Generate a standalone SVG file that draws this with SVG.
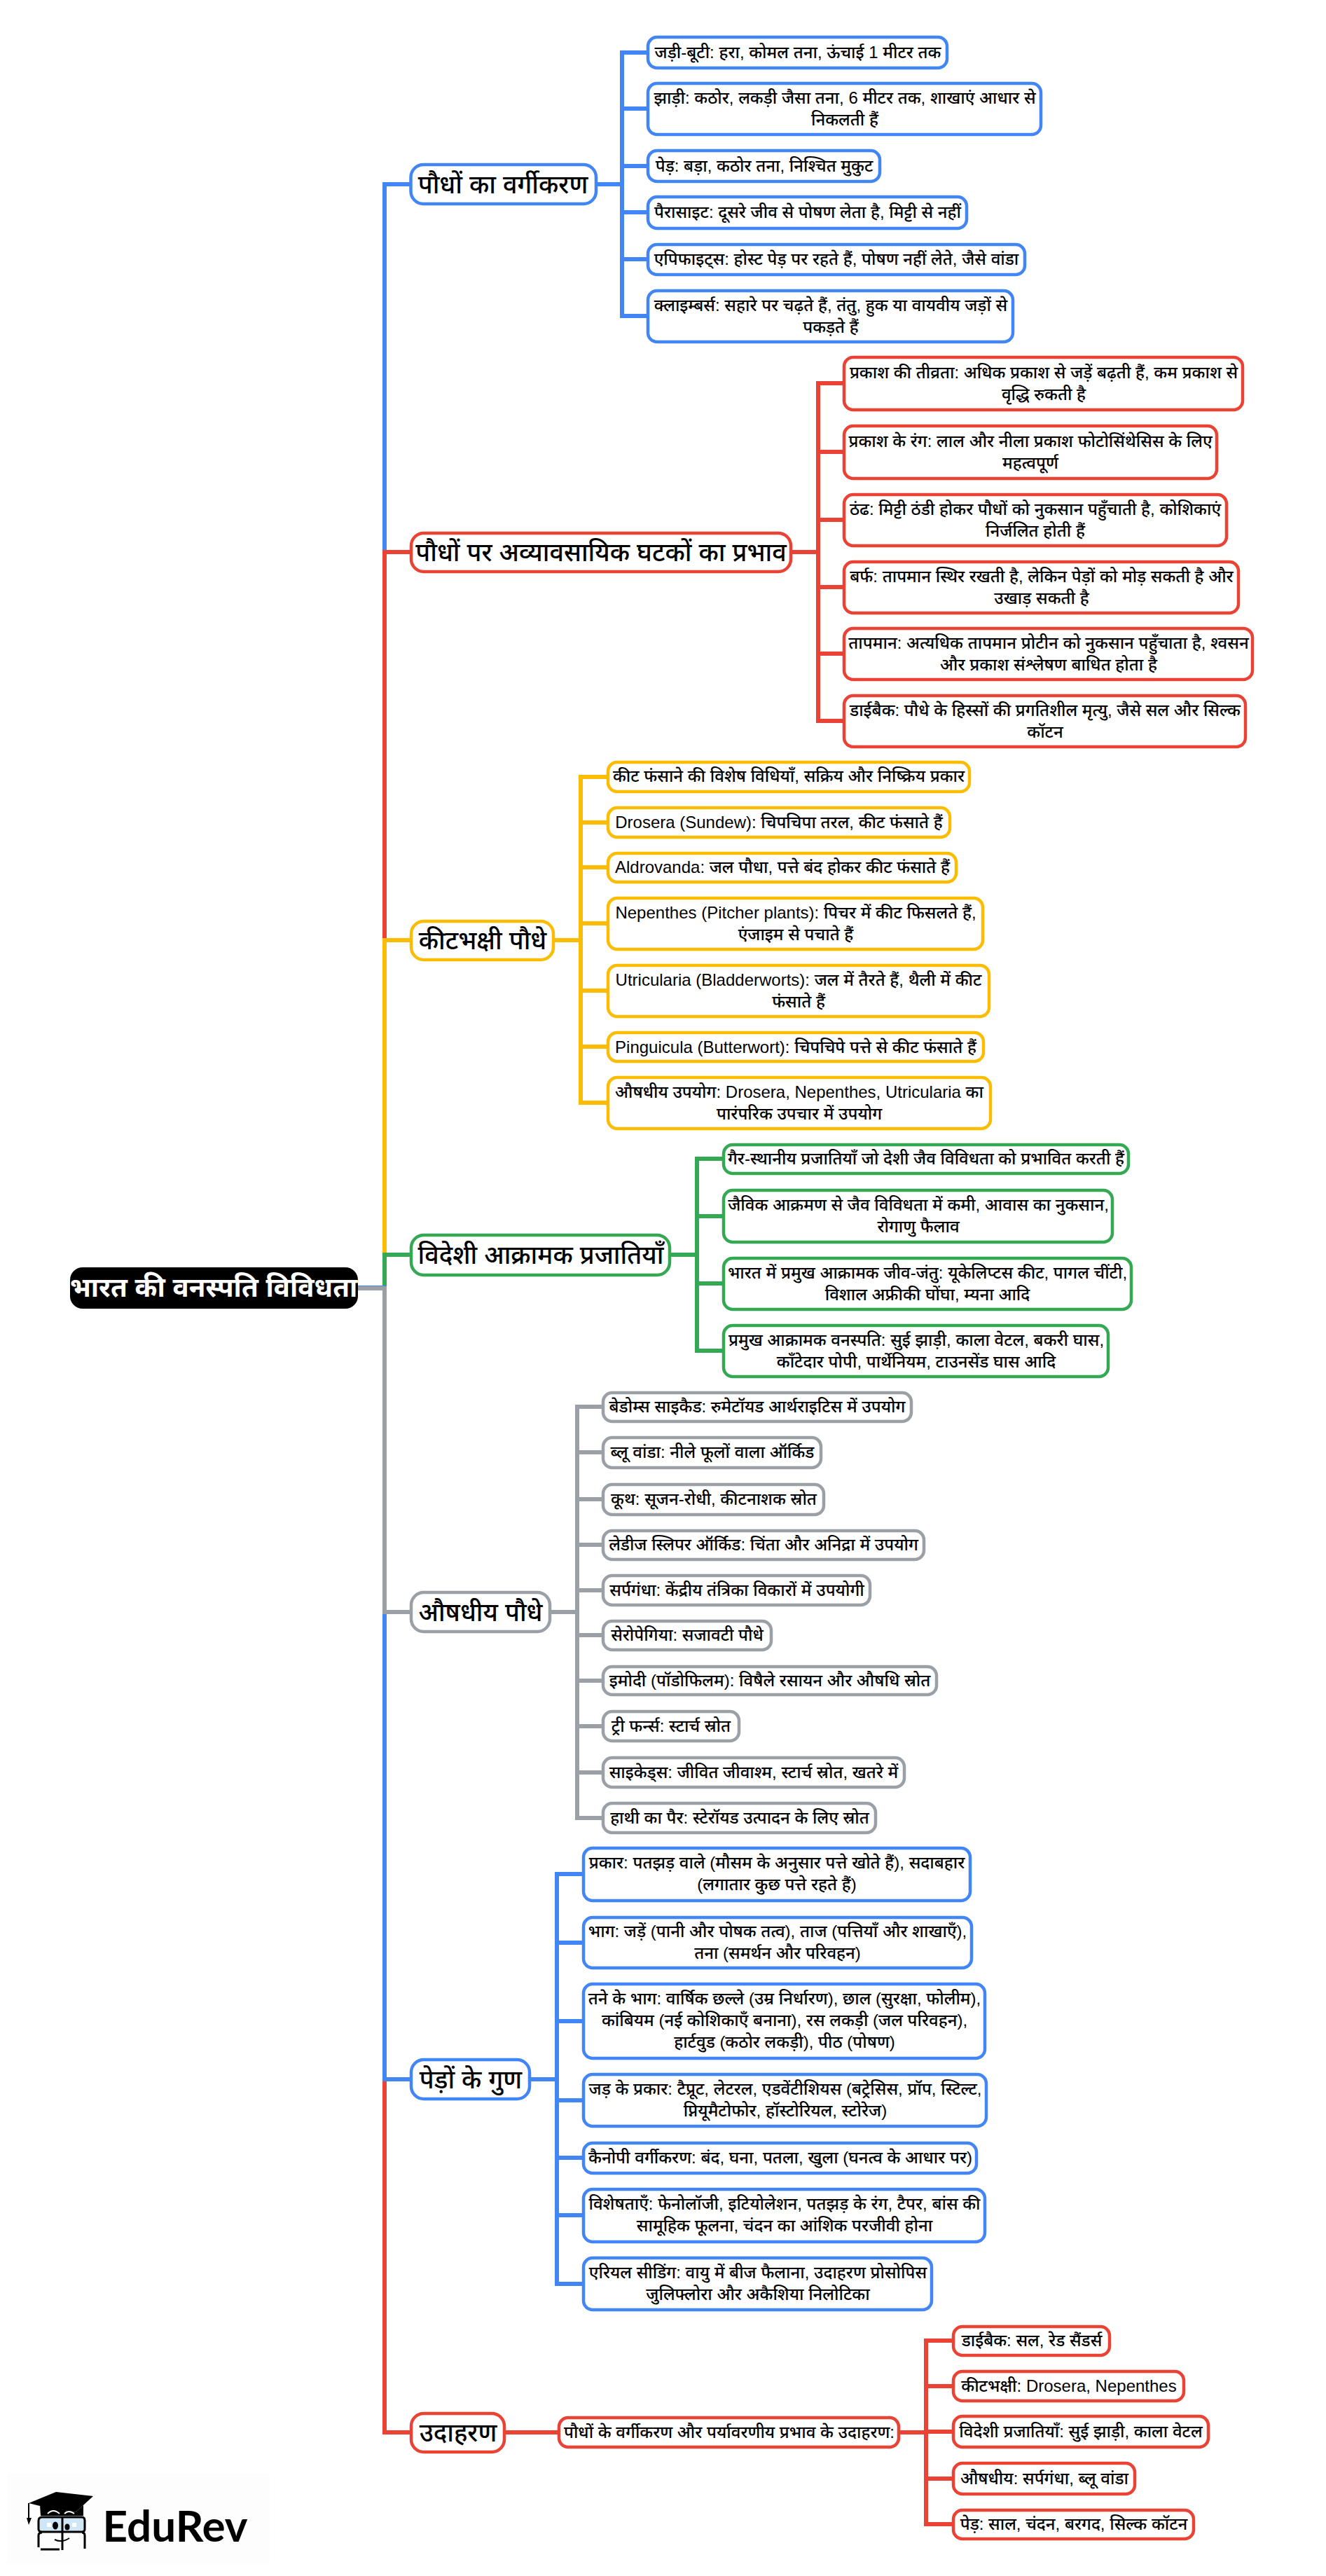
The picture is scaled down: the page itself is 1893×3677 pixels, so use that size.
<svg xmlns="http://www.w3.org/2000/svg" width="1893" height="3677" viewBox="0 0 1893 3677">
<style>
text{font-family:"Liberation Sans","Noto Sans",sans-serif;text-anchor:middle;fill:#000}
.c{font-size:24px;font-weight:500}
.p{font-size:36px;font-weight:500}
.r{font-size:38.5px;font-weight:700;fill:#fff}
rect{fill:#fff;stroke-width:4.5}
path{fill:none;stroke-width:6}
.bl rect,path.bl{stroke:#4285F4}
.rd rect,path.rd{stroke:#EA4335}
.yl rect,path.yl{stroke:#FBBC04}
.gn rect,path.gn{stroke:#34A853}
.gy rect,path.gy{stroke:#9AA0A6}
</style>
<g id="connectors">
<path class="bl" d="M511 1838H549V263H586M851 263H888M924 75H888V451H924M888 155H924M888 237H924M888 303H924M888 370H924"/>
<path class="rd" d="M511 1838H549V788H586M1131 788H1168M1204 547H1168V1029H1204M1168 645H1204M1168 742H1204M1168 838H1204M1168 933H1204"/>
<path class="yl" d="M511 1838H549V1342H586M792 1342H829M867 1109H829V1574H867M829 1174H867M829 1238H867M829 1318H867M829 1414H867M829 1494H867"/>
<path class="gn" d="M511 1838H549V1791H586M958 1791H995M1032 1654H995V1928H1032M995 1736H1032M995 1832H1032"/>
<path class="rd" d="M511 1838H549V3472H586M722 3472H797M1285 3472H1322M1360 3341H1322V3603H1360M1322 3406H1360M1322 3471H1360M1322 3538H1360"/>
<path class="bl" d="M511 1838H549V2968H586M758 2968H795M832 2675H795V3260H832M795 2773H832M795 2885H832M795 2998H832M795 3080H832M795 3162H832"/>
<path class="gy" d="M511 1839H549V2301H586M787 2301H824M860 2008H824V2595H860M824 2073H860M824 2140H860M824 2205H860M824 2270H860M824 2334H860M824 2399H860M824 2464H860M824 2530H860"/>
</g>
<g id="root"><rect x="100" y="1809" width="411" height="59" rx="18" style="fill:#000;stroke:none"/><text class="r" x="305" y="1851">भारत की वनस्पति विविधता</text></g>
<g id="n1" class="bl"><rect x="586.5" y="235" width="264.5" height="56" rx="18"/><text class="p" x="718" y="276">पौधों का वर्गीकरण</text></g>
<g id="n1a" class="bl"><rect x="925" y="53" width="427" height="44" rx="13"/><text class="c" x="1139" y="83">जड़ी-बूटी: हरा, कोमल तना, ऊंचाई 1 मीटर तक</text></g>
<g id="n1b" class="bl"><rect x="925" y="119" width="561" height="73" rx="13"/><text class="c" x="1206" y="148">झाड़ी: कठोर, लकड़ी जैसा तना, 6 मीटर तक, शाखाएं आधार से</text><text class="c" x="1206" y="179">निकलती हैं</text></g>
<g id="n1c" class="bl"><rect x="925" y="215" width="331" height="44" rx="13"/><text class="c" x="1091" y="245">पेड़: बड़ा, कठोर तना, निश्चित मुकुट</text></g>
<g id="n1d" class="bl"><rect x="925" y="281" width="455" height="45" rx="13"/><text class="c" x="1153" y="311">पैरासाइट: दूसरे जीव से पोषण लेता है, मिट्टी से नहीं</text></g>
<g id="n1e" class="bl"><rect x="925" y="349" width="538" height="43" rx="13"/><text class="c" x="1194" y="378">एपिफाइट्स: होस्ट पेड़ पर रहते हैं, पोषण नहीं लेते, जैसे वांडा</text></g>
<g id="n1f" class="bl"><rect x="925" y="415" width="521" height="73" rx="13"/><text class="c" x="1186" y="444">क्लाइम्बर्स: सहारे पर चढ़ते हैं, तंतु, हुक या वायवीय जड़ों से</text><text class="c" x="1186" y="475">पकड़ते हैं</text></g>
<g id="n2" class="rd"><rect x="587" y="761" width="542" height="55" rx="18"/><text class="p" x="858" y="801">पौधों पर अव्यावसायिक घटकों का प्रभाव</text></g>
<g id="n2a" class="rd"><rect x="1205" y="510" width="569" height="75" rx="13"/><text class="c" x="1490" y="540">प्रकाश की तीव्रता: अधिक प्रकाश से जड़ें बढ़ती हैं, कम प्रकाश से</text><text class="c" x="1490" y="571">वृद्धि रुकती है</text></g>
<g id="n2b" class="rd"><rect x="1205" y="608" width="532" height="75" rx="13"/><text class="c" x="1471" y="638">प्रकाश के रंग: लाल और नीला प्रकाश फोटोसिंथेसिस के लिए</text><text class="c" x="1471" y="669">महत्वपूर्ण</text></g>
<g id="n2c" class="rd"><rect x="1205" y="706" width="546" height="73" rx="13"/><text class="c" x="1478" y="735">ठंढ: मिट्टी ठंडी होकर पौधों को नुकसान पहुँचाती है, कोशिकाएं</text><text class="c" x="1478" y="766">निर्जलित होती हैं</text></g>
<g id="n2d" class="rd"><rect x="1205" y="802" width="563" height="73" rx="13"/><text class="c" x="1487" y="831">बर्फ: तापमान स्थिर रखती है, लेकिन पेड़ों को मोड़ सकती है और</text><text class="c" x="1487" y="862">उखाड़ सकती है</text></g>
<g id="n2e" class="rd"><rect x="1205" y="897" width="583" height="73" rx="13"/><text class="c" x="1497" y="926">तापमान: अत्यधिक तापमान प्रोटीन को नुकसान पहुँचाता है, श्वसन</text><text class="c" x="1497" y="957">और प्रकाश संश्लेषण बाधित होता है</text></g>
<g id="n2f" class="rd"><rect x="1205" y="993" width="573" height="73" rx="13"/><text class="c" x="1492" y="1022">डाईबैक: पौधे के हिस्सों की प्रगतिशील मृत्यु, जैसे सल और सिल्क</text><text class="c" x="1492" y="1053">कॉटन</text></g>
<g id="n3" class="yl"><rect x="587" y="1315" width="203" height="55" rx="18"/><text class="p" x="689" y="1355">कीटभक्षी पौधे</text></g>
<g id="n3a" class="yl"><rect x="868" y="1088" width="516" height="42" rx="13"/><text class="c" x="1126" y="1116">कीट फंसाने की विशेष विधियाँ, सक्रिय और निष्क्रिय प्रकार</text></g>
<g id="n3b" class="yl"><rect x="868" y="1153" width="488" height="42" rx="13"/><text class="c" x="1112" y="1182">Drosera (Sundew): चिपचिपा तरल, कीट फंसाते हैं</text></g>
<g id="n3c" class="yl"><rect x="868" y="1218" width="497" height="41" rx="13"/><text class="c" x="1117" y="1246">Aldrovanda: जल पौधा, पत्ते बंद होकर कीट फंसाते हैं</text></g>
<g id="n3d" class="yl"><rect x="868" y="1282" width="535" height="73" rx="13"/><text class="c" x="1136" y="1311">Nepenthes (Pitcher plants): पिचर में कीट फिसलते हैं,</text><text class="c" x="1136" y="1342">एंजाइम से पचाते हैं</text></g>
<g id="n3e" class="yl"><rect x="868" y="1378" width="544" height="73" rx="13"/><text class="c" x="1140" y="1407">Utricularia (Bladderworts): जल में तैरते हैं, थैली में कीट</text><text class="c" x="1140" y="1438">फंसाते हैं</text></g>
<g id="n3f" class="yl"><rect x="868" y="1474" width="536" height="41" rx="13"/><text class="c" x="1136" y="1503">Pinguicula (Butterwort): चिपचिपे पत्ते से कीट फंसाते हैं</text></g>
<g id="n3g" class="yl"><rect x="868" y="1538" width="546" height="73" rx="13"/><text class="c" x="1141" y="1567">औषधीय उपयोग: Drosera, Nepenthes, Utricularia का</text><text class="c" x="1141" y="1598">पारंपरिक उपचार में उपयोग</text></g>
<g id="n4" class="gn"><rect x="587" y="1763" width="369" height="57" rx="18"/><text class="p" x="772" y="1804">विदेशी आक्रामक प्रजातियाँ</text></g>
<g id="n4a" class="gn"><rect x="1033" y="1634" width="578" height="41" rx="13"/><text class="c" x="1322" y="1662">गैर-स्थानीय प्रजातियाँ जो देशी जैव विविधता को प्रभावित करती हैं</text></g>
<g id="n4b" class="gn"><rect x="1033" y="1699" width="555" height="74" rx="13"/><text class="c" x="1311" y="1728">जैविक आक्रमण से जैव विविधता में कमी, आवास का नुकसान,</text><text class="c" x="1311" y="1759">रोगाणु फैलाव</text></g>
<g id="n4c" class="gn"><rect x="1033" y="1796" width="582" height="73" rx="13"/><text class="c" x="1324" y="1825">भारत में प्रमुख आक्रामक जीव-जंतु: यूकेलिप्टस कीट, पागल चींटी,</text><text class="c" x="1324" y="1856">विशाल अफ्रीकी घोंघा, म्यना आदि</text></g>
<g id="n4d" class="gn"><rect x="1033" y="1892" width="549" height="73" rx="13"/><text class="c" x="1308" y="1921">प्रमुख आक्रामक वनस्पति: सुई झाड़ी, काला वेटल, बकरी घास,</text><text class="c" x="1308" y="1952">काँटेदार पोपी, पार्थेनियम, टाउनसेंड घास आदि</text></g>
<g id="n5" class="gy"><rect x="587" y="2273" width="198" height="56" rx="18"/><text class="p" x="686" y="2314">औषधीय पौधे</text></g>
<g id="n5a" class="gy"><rect x="861" y="1988" width="440" height="41" rx="13"/><text class="c" x="1081" y="2016">बेडोम्स साइकैड: रुमेटॉयड आर्थराइटिस में उपयोग</text></g>
<g id="n5b" class="gy"><rect x="861" y="2052" width="311" height="43" rx="13"/><text class="c" x="1017" y="2081">ब्लू वांडा: नीले फूलों वाला ऑर्किड</text></g>
<g id="n5c" class="gy"><rect x="861" y="2119" width="315" height="43" rx="13"/><text class="c" x="1019" y="2148">कूथ: सूजन-रोधी, कीटनाशक स्रोत</text></g>
<g id="n5d" class="gy"><rect x="861" y="2185" width="458" height="41" rx="13"/><text class="c" x="1090" y="2213">लेडीज स्लिपर ऑर्किड: चिंता और अनिद्रा में उपयोग</text></g>
<g id="n5e" class="gy"><rect x="861" y="2249" width="381" height="42" rx="13"/><text class="c" x="1052" y="2278">सर्पगंधा: केंद्रीय तंत्रिका विकारों में उपयोगी</text></g>
<g id="n5f" class="gy"><rect x="861" y="2314" width="240" height="41" rx="13"/><text class="c" x="981" y="2342">सेरोपेगिया: सजावटी पौधे</text></g>
<g id="n5g" class="gy"><rect x="861" y="2379" width="476" height="40" rx="13"/><text class="c" x="1099" y="2407">इमोदी (पॉडोफिलम): विषैले रसायन और औषधि स्रोत</text></g>
<g id="n5h" class="gy"><rect x="861" y="2443" width="194" height="42" rx="13"/><text class="c" x="958" y="2472">ट्री फर्न्स: स्टार्च स्रोत</text></g>
<g id="n5i" class="gy"><rect x="861" y="2509" width="430" height="42" rx="13"/><text class="c" x="1076" y="2538">साइकेड्स: जीवित जीवाश्म, स्टार्च स्रोत, खतरे में</text></g>
<g id="n5j" class="gy"><rect x="861" y="2574" width="389" height="42" rx="13"/><text class="c" x="1056" y="2603">हाथी का पैर: स्टेरॉयड उत्पादन के लिए स्रोत</text></g>
<g id="n6" class="bl"><rect x="587" y="2940" width="169" height="56" rx="18"/><text class="p" x="672" y="2981">पेड़ों के गुण</text></g>
<g id="n6a" class="bl"><rect x="833" y="2638" width="552" height="75" rx="13"/><text class="c" x="1109" y="2667">प्रकार: पतझड़ वाले (मौसम के अनुसार पत्ते खोते हैं), सदाबहार</text><text class="c" x="1109" y="2698">(लगातार कुछ पत्ते रहते हैं)</text></g>
<g id="n6b" class="bl"><rect x="833" y="2737" width="554" height="72" rx="13"/><text class="c" x="1110" y="2765">भाग: जड़ें (पानी और पोषक तत्व), ताज (पत्तियाँ और शाखाएँ),</text><text class="c" x="1110" y="2796">तना (समर्थन और परिवहन)</text></g>
<g id="n6c" class="bl"><rect x="833" y="2832" width="573" height="106" rx="13"/><text class="c" x="1120" y="2861">तने के भाग: वार्षिक छल्ले (उम्र निर्धारण), छाल (सुरक्षा, फोलीम),</text><text class="c" x="1120" y="2892">कांबियम (नई कोशिकाएँ बनाना), रस लकड़ी (जल परिवहन),</text><text class="c" x="1120" y="2923">हार्टवुड (कठोर लकड़ी), पीठ (पोषण)</text></g>
<g id="n6d" class="bl"><rect x="833" y="2961" width="575" height="74" rx="13"/><text class="c" x="1121" y="2990">जड़ के प्रकार: टैप्रूट, लेटरल, एडवेंटीशियस (बट्रेसिस, प्रॉप, स्टिल्ट,</text><text class="c" x="1121" y="3021">प्नियूमैटोफोर, हॉस्टोरियल, स्टोरेज)</text></g>
<g id="n6e" class="bl"><rect x="833" y="3059" width="561" height="43" rx="13"/><text class="c" x="1114" y="3088">कैनोपी वर्गीकरण: बंद, घना, पतला, खुला (घनत्व के आधार पर)</text></g>
<g id="n6f" class="bl"><rect x="833" y="3125" width="573" height="75" rx="13"/><text class="c" x="1120" y="3154">विशेषताएँ: फेनोलॉजी, इटियोलेशन, पतझड़ के रंग, टैपर, बांस की</text><text class="c" x="1120" y="3185">सामूहिक फूलना, चंदन का आंशिक परजीवी होना</text></g>
<g id="n6g" class="bl"><rect x="833" y="3223" width="497" height="74" rx="13"/><text class="c" x="1082" y="3252">एरियल सीडिंग: वायु में बीज फैलाना, उदाहरण प्रोसोपिस</text><text class="c" x="1082" y="3283">जुलिफ्लोरा और अकैशिया निलोटिका</text></g>
<g id="n7" class="rd"><rect x="587" y="3445" width="133" height="55" rx="18"/><text class="p" x="654" y="3485">उदाहरण</text></g>
<g id="n7m" class="rd"><rect x="798" y="3451" width="485" height="42" rx="13"/><text class="c" x="1041" y="3480">पौधों के वर्गीकरण और पर्यावरणीय प्रभाव के उदाहरण:</text></g>
<g id="n7a" class="rd"><rect x="1361" y="3321" width="223" height="41" rx="13"/><text class="c" x="1473" y="3349">डाईबैक: सल, रेड सैंडर्स</text></g>
<g id="n7b" class="rd"><rect x="1361" y="3385" width="329" height="42" rx="13"/><text class="c" x="1526" y="3414">कीटभक्षी: Drosera, Nepenthes</text></g>
<g id="n7c" class="rd"><rect x="1361" y="3449" width="364" height="44" rx="13"/><text class="c" x="1543" y="3479">विदेशी प्रजातियाँ: सुई झाड़ी, काला वेटल</text></g>
<g id="n7d" class="rd"><rect x="1361" y="3516" width="259" height="44" rx="13"/><text class="c" x="1491" y="3546">औषधीय: सर्पगंधा, ब्लू वांडा</text></g>
<g id="n7e" class="rd"><rect x="1361" y="3583" width="343" height="41" rx="13"/><text class="c" x="1533" y="3611">पेड़: साल, चंदन, बरगद, सिल्क कॉटन</text></g>
<g id="logo">
<rect x="10" y="3530" width="375" height="130" style="fill:#fdfdfd;stroke:none"/>
<path d="M41 3573L80 3557L133 3563L108 3586L57 3577Z" style="fill:#000;stroke:none"/>
<path d="M57 3576L108 3586L119 3576V3591H58Z" style="fill:#000;stroke:none"/>
<path d="M41 3573V3595" style="stroke:#000;stroke-width:2"/>
<path d="M38 3594H45L41 3604Z" style="fill:#000;stroke:none"/>
<path d="M68 3588Q76 3580 85 3588M92 3588Q98 3582 106 3588" style="stroke:#fff;stroke-width:2"/>
<path d="M60 3593H117Q121 3593 121 3598V3610Q121 3614 117 3614H60Q55 3614 55 3610V3598Q55 3593 60 3593Z" style="fill:#cfe6f5;stroke:#000;stroke-width:3"/>
<path d="M55 3636V3619Q55 3615 60 3615M117 3615Q121 3615 121 3619V3638M58 3639H85" style="stroke:#000;stroke-width:3"/>
<path d="M89 3593V3640" style="stroke:#000;stroke-width:3"/>
<path d="M67 3601h6v6h-6zM103 3601h6v6h-6z" style="fill:#fff;stroke:none"/>
<ellipse cx="79" cy="3605" rx="4" ry="5.5"/>
<ellipse cx="96" cy="3607" rx="3.5" ry="4.5"/>
<path d="M78 3625Q88 3630 99 3623" style="stroke:#000;stroke-width:2"/>
<text x="250" y="3628" style="font-family:Lato,sans-serif;font-size:62px;font-weight:700">EduRev</text>
</g>
</svg>
